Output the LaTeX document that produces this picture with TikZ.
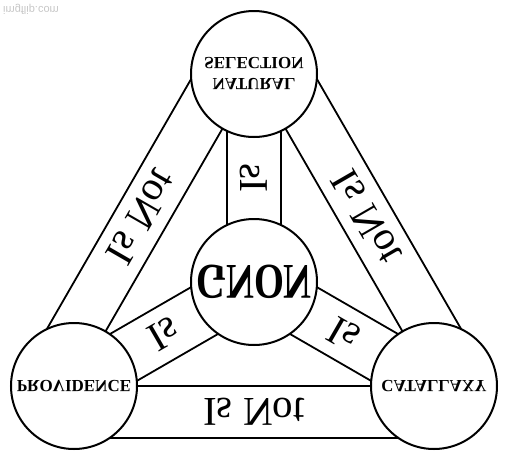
\documentclass[tikz,border=0pt]{standalone}
\usepackage{fontspec}
\setmainfont{Liberation Serif}
\newfontfamily\markfont{Liberation Sans}
\usepackage{graphicx}
\usetikzlibrary{backgrounds}

\begin{document}
\begin{tikzpicture}[x=1pt,y=-1pt,
  orb/.style={circle,draw,line width=2pt,fill=white,minimum size=126pt,inner sep=0pt,
    align=center,yscale=-1,font=\bfseries\fontsize{17}{21}\selectfont},
  band/.style={line width=1.8pt},
  tag/.style={rotate=#1,yscale=-1,inner sep=0pt,font=\fontsize{41}{41}\selectfont},
  tag/.default=0]
  \useasboundingbox (0,0) rectangle (512,458);
  % Circles
  \node[orb] (sel) at (254,74) {NATURAL\\SELECTION};
  \node[orb] (gnon) at (254,282) {\fontsize{50}{50}\selectfont\scalebox{0.77}[1]{GNON}};
  \node[orb] (prov) at (74,386) {PROVIDENCE};
  \node[orb] (cat) at (434,386) {CATALLAXY};
  % Bands behind the circles
  \begin{scope}[on background layer]
    % Outer bands
    \draw[band] (sel.center) -- (prov.center);
    \draw[band] ([shift={(-45,-26)}]sel.center) -- ([shift={(-45,-26)}]prov.center);
    \draw[band] (sel.center) -- (cat.center);
    \draw[band] ([shift={(45,-26)}]sel.center) -- ([shift={(45,-26)}]cat.center);
    \draw[band] (prov.center) -- (cat.center);
    \draw[band] ([shift={(0,52)}]prov.center) -- ([shift={(0,52)}]cat.center);
    % Inner bands
    \draw[band] ([shift={(-27,0)}]sel.center) -- ([shift={(-27,0)}]gnon.center);
    \draw[band] ([shift={(27,0)}]sel.center) -- ([shift={(27,0)}]gnon.center);
    \draw[band] ([shift={(13.5,23.4)}]gnon.center) -- ([shift={(13.5,23.4)}]prov.center);
    \draw[band] ([shift={(-13.5,-23.4)}]gnon.center) -- ([shift={(-13.5,-23.4)}]prov.center);
    \draw[band] ([shift={(-13.5,23.4)}]gnon.center) -- ([shift={(-13.5,23.4)}]cat.center);
    \draw[band] ([shift={(13.5,-23.4)}]gnon.center) -- ([shift={(13.5,-23.4)}]cat.center);
  \end{scope}
  % Band labels
  \node[tag=60] (notleft) at (141.5,217) {Is Not};
  \node[tag=-60] (notright) at (366.5,217) {Is Not};
  \node[tag] (notbottom) at (254,412) {Is Not};
  \node[tag=90] (istop) at (254,178) {Is};
  \node[tag=30] (isleft) at (164,334) {Is};
  \node[tag=-30] (isright) at (344,334) {Is};
  % Watermark
  \node[anchor=west,inner sep=0pt,yscale=-1,text=gray!45,
    font=\markfont\fontsize{11}{11}\selectfont] (mark) at (3,9) {imgflip.com};
\end{tikzpicture}
\end{document}
